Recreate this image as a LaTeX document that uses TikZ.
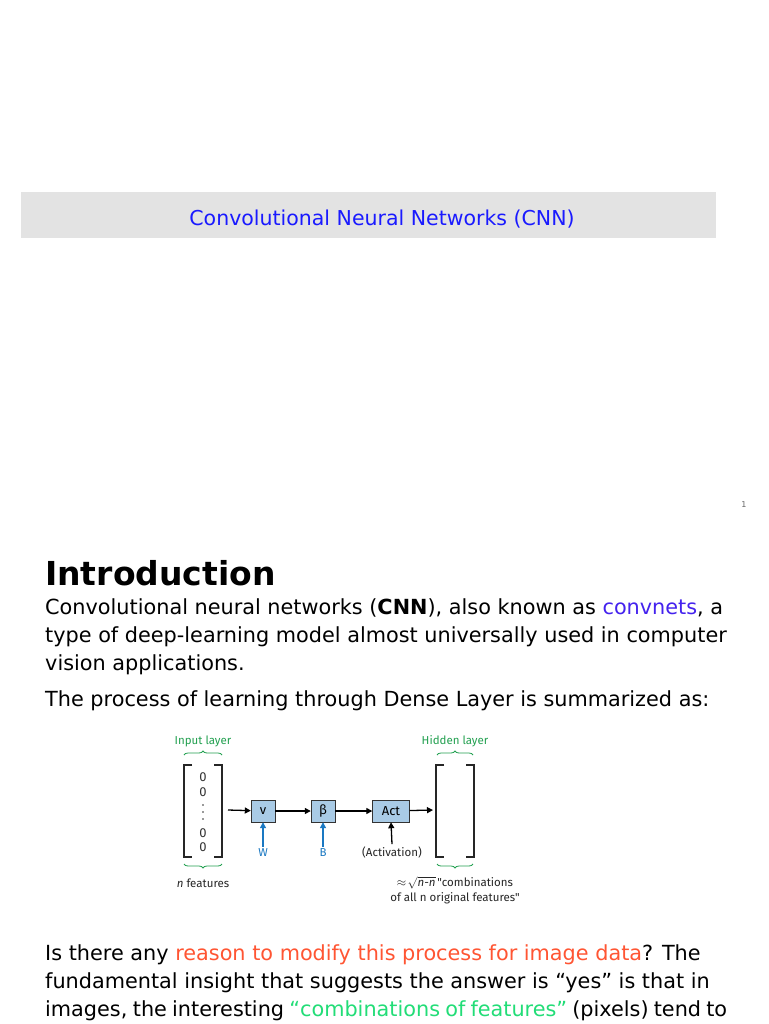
\documentclass[tikz,border=0pt]{standalone}
\usepackage{fontspec}
\setmainfont{DejaVu Sans}
\newfontfamily\diag{Fira Sans}
\usetikzlibrary{decorations.pathreplacing,arrows.meta}
\definecolor{ttl}{HTML}{1A1AFF}
\definecolor{cv}{HTML}{4422EE}
\definecolor{rs}{HTML}{FF5533}
\definecolor{cf}{HTML}{22DD77}
\definecolor{gr}{HTML}{22A050}
\definecolor{bl}{HTML}{1A78C2}
\definecolor{bx}{HTML}{A9CBE6}
\begin{document}
\begin{tikzpicture}[x=1pt,y=-1pt,
  body/.style={anchor=base west,inner sep=0,font=\fontsize{20.8}{24}\selectfont},
  jline/.style={body,text width=682pt,align=justify},
  dt/.style={font=\diag\fontsize{11.5}{14}\selectfont,inner sep=0},
  op/.style={draw=black!80,fill=bx,minimum width=24pt,minimum height=22pt,inner sep=0,font=\diag\fontsize{13}{15}\selectfont},
  ar/.style={-{Triangle[length=6pt,width=6pt]},line width=1.3pt},
  brc/.style={decorate,decoration={brace,amplitude=4pt},draw=gr,line width=0.8pt},
  brk/.style={line width=1.3pt,black!85}]
\useasboundingbox[fill=white] (0,0) rectangle (768,1024);
\fill[black!11] (21,192) rectangle (716,238);
\node[font=\fontsize{20.5}{24}\selectfont,text=ttl] (title) at (382,219) {Convolutional Neural Networks (CNN)};
\node[font=\fontsize{8}{9}\selectfont,text=black!60] (pg) at (744,505) {1};
\node[body,font=\bfseries\fontsize{33}{36}\selectfont] (intro) at (45,585) {Introduction};
\node[jline] (l1) at (45,614) {\parfillskip=0pt Convolutional neural networks (\textbf{CNN}), also known as \textcolor{cv}{convnets}, a};
\node[jline] (l2) at (45,642) {\parfillskip=0pt type of deep-learning model almost universally used in computer};
\node[body] (l3) at (45,670) {vision applications.};
\node[body] (l4) at (45,706) {The process of learning through Dense Layer is summarized as:};
\node[jline] (l5) at (45,960) {\parfillskip=0pt Is there any \textcolor{rs}{reason to modify this process for image data}? The};
\node[jline] (l6) at (45,988) {\parfillskip=0pt fundamental insight that suggests the answer is “yes” is that in};
\node[jline] (l7) at (45,1016) {\parfillskip=0pt images, the interesting \textcolor{cf}{“combinations of features”} (pixels) tend to};
% diagram
\node[dt,text=gr] (inl) at (203,741) {Input layer};
\node[dt,text=gr] (hil) at (455,741) {Hidden layer};
\draw[brc] (184,755) -- (222,755);
\draw[brc] (437,755) -- (473,755);
\draw[brc] (222,864) -- (184,864);
\draw[brc] (473,864) -- (437,864);
\draw[brk] (192,765) -- (184,765) -- (184,857) -- (192,857);
\draw[brk] (214,765) -- (222,765) -- (222,857) -- (214,857);
\draw[brk] (444,765) -- (436,765) -- (436,857) -- (444,857);
\draw[brk] (466,765) -- (474,765) -- (474,857) -- (466,857);
\foreach \yy/\nm in {777/z1,792/z2,833/z3,847/z4}
  \node[dt,font=\diag\fontsize{13}{15}\selectfont,text=black!80] (\nm) at (203,\yy) {0};
\foreach \yy in {805,812,819} \fill[black!80] (203,\yy) circle (0.9);
\coordinate (inr) at (228,810);
\coordinate (hin) at (433,810);
\node[op] (v) at (263,811) {v};
\node[op] (b) at (323,811) {β};
\node[op,minimum width=37pt] (act) at (391,811) {Act};
\draw[ar] (inr) -- (v);
\draw[ar] (v) -- (b);
\draw[ar] (b) -- (act);
\draw[ar] (act) -- (hin);
\node[dt,text=bl] (w) at (263,853) {W};
\node[dt,text=bl] (bb) at (323,853) {B};
\node[dt,text=black!85] (actv) at (392,852) {(Activation)};
\draw[ar,bl] (w.north) ++(0,-2) -- (v.south);
\draw[ar,bl] (bb.north) ++(0,-2) -- (b.south);
\draw[ar] (actv.north) ++(0,-2) -- (act.south);
\node[dt,text=black!85] (nf) at (203,883) {\textit{n} features};
\node[dt,text=black!85] (comb1) at (455,883) {$\approx\!\sqrt{\textit{n-n}}$\,"combinations};
\node[dt,text=black!85] (comb2) at (455,898) {of all n original features"};
\end{tikzpicture}
\end{document}
